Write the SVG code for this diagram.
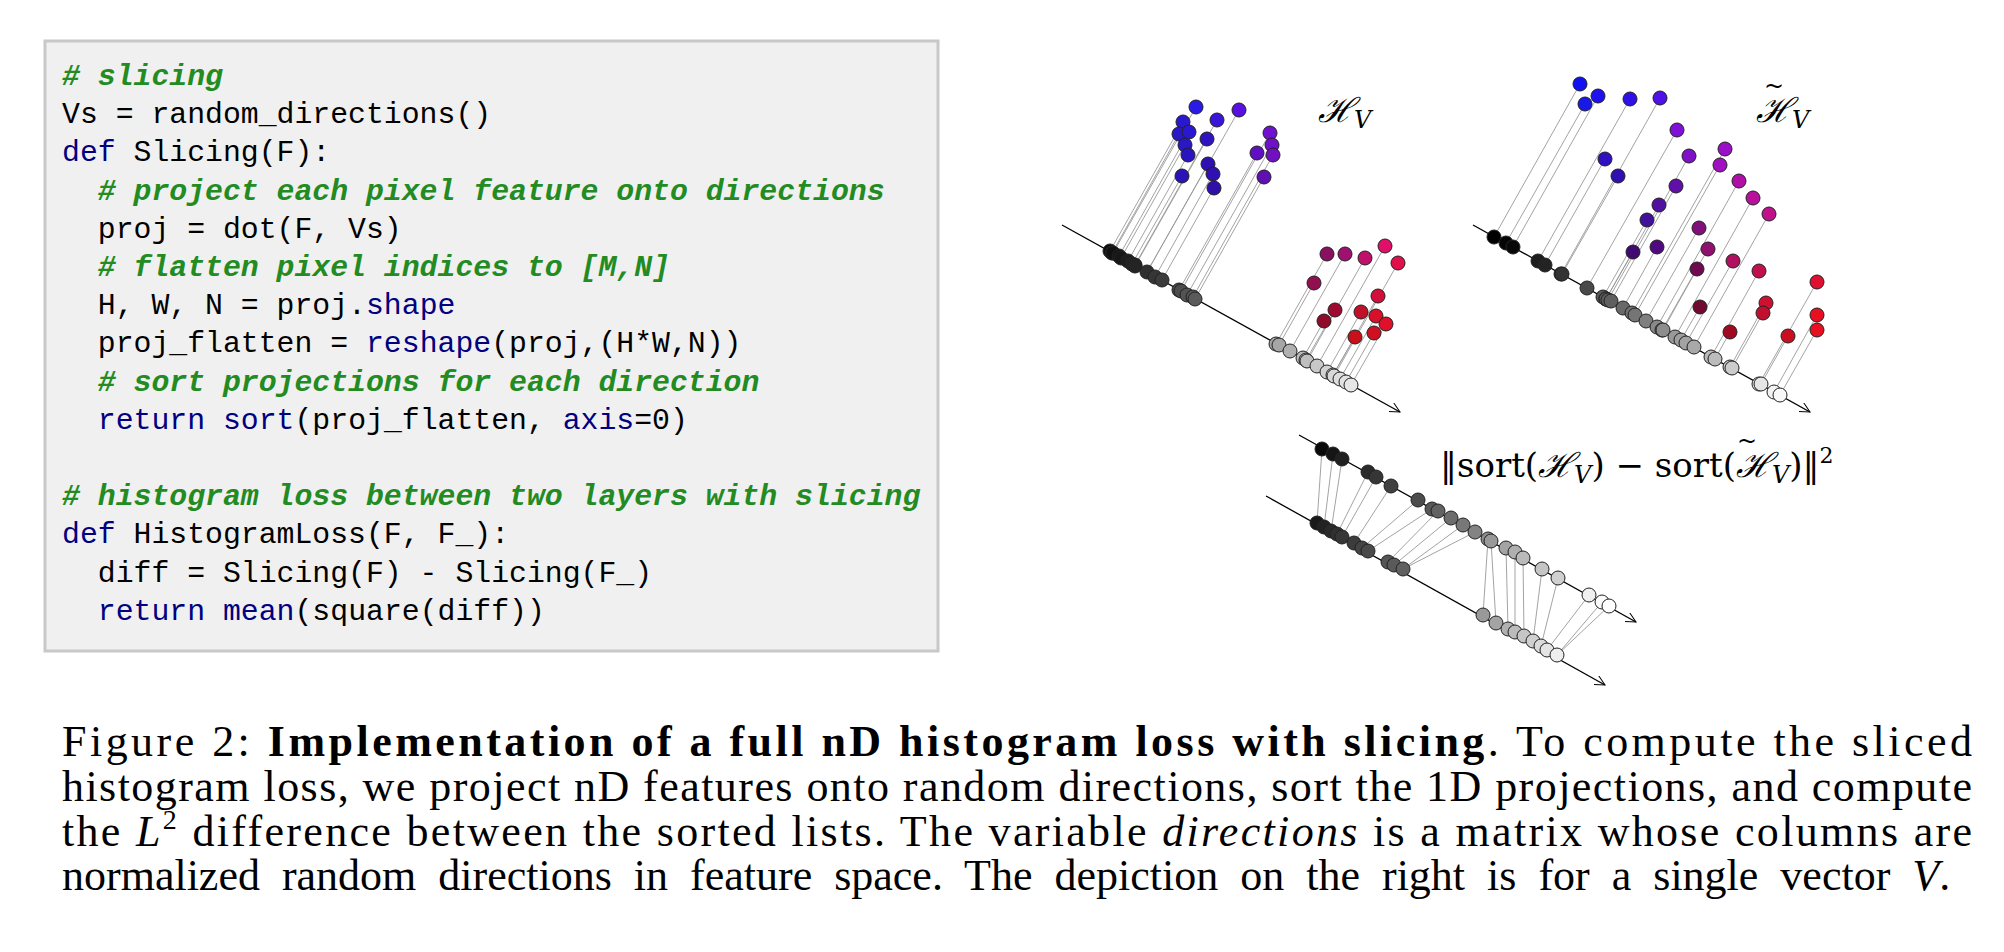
<svg xmlns="http://www.w3.org/2000/svg" width="2004" height="952" viewBox="0 0 2004 952">
<style>
.code{font-family:"Liberation Mono",monospace;font-size:29.8px;fill:#000;white-space:pre}
.cm{fill:#228b22;font-style:italic;font-weight:bold}
.kw{fill:#000080}
.cap{font-family:"Liberation Serif",serif;font-size:44px;fill:#000}
.pl{stroke:#999;stroke-width:0.9}
.ax{stroke:#000;stroke-width:1.3;fill:none;marker-end:url(#ah)}
circle{stroke:#222;stroke-width:1}
.m{font-family:"DejaVu Serif","Liberation Serif",serif;fill:#000}
</style>
<defs><marker id="ah" markerWidth="12" markerHeight="12" refX="10" refY="5" orient="auto" markerUnits="userSpaceOnUse"><path d="M0,0 L10,5 L0,10" fill="none" stroke="#000" stroke-width="1"/></marker></defs>
<rect width="2004" height="952" fill="#fff"/>
<g id="code">
<rect x="45" y="41" width="893" height="610" fill="#f0f0f0" stroke="#c8c8c8" stroke-width="3"/>
<text class="code" x="62" y="85"><tspan class="cm"># slicing</tspan></text>
<text class="code" x="62" y="123">Vs = random_directions()</text>
<text class="code" x="62" y="161"><tspan class="kw">def</tspan> Slicing(F):</text>
<text class="code" x="62" y="200">  <tspan class="cm"># project each pixel feature onto directions</tspan></text>
<text class="code" x="62" y="238">  proj = dot(F, Vs)</text>
<text class="code" x="62" y="276">  <tspan class="cm"># flatten pixel indices to [M,N]</tspan></text>
<text class="code" x="62" y="314">  H, W, N = proj.<tspan class="kw">shape</tspan></text>
<text class="code" x="62" y="352">  proj_flatten = <tspan class="kw">reshape</tspan>(proj,(H*W,N))</text>
<text class="code" x="62" y="391">  <tspan class="cm"># sort projections for each direction</tspan></text>
<text class="code" x="62" y="429">  <tspan class="kw">return</tspan> <tspan class="kw">sort</tspan>(proj_flatten, <tspan class="kw">axis</tspan>=0)</text>
<text class="code" x="62" y="505"><tspan class="cm"># histogram loss between two layers with slicing</tspan></text>
<text class="code" x="62" y="543"><tspan class="kw">def</tspan> HistogramLoss(F, F_):</text>
<text class="code" x="62" y="582">  diff = Slicing(F) - Slicing(F_)</text>
<text class="code" x="62" y="620">  <tspan class="kw">return</tspan> <tspan class="kw">mean</tspan>(square(diff))</text>
</g>
<g id="connectors">
<line class="ax" x1="1062" y1="225" x2="1400" y2="412"/>
<line class="ax" x1="1473" y1="225" x2="1810" y2="412"/>
<line class="ax" x1="1299" y1="435" x2="1636" y2="622"/>
<line class="ax" x1="1266" y1="496" x2="1605" y2="685"/>
<g class="pl">
<line x1="1196" y1="107" x2="1113" y2="253"/><line x1="1239" y1="110" x2="1147" y2="272"/><line x1="1183" y1="122" x2="1110" y2="251"/><line x1="1217" y1="120" x2="1135" y2="265"/><line x1="1179" y1="134" x2="1112" y2="253"/><line x1="1189" y1="132" x2="1119" y2="256"/><line x1="1207" y1="139" x2="1135" y2="266"/><line x1="1185" y1="145" x2="1121" y2="258"/><line x1="1188" y1="155" x2="1128" y2="261"/><line x1="1208" y1="164" x2="1147" y2="272"/><line x1="1213" y1="174" x2="1155" y2="277"/><line x1="1182" y1="176" x2="1132" y2="264"/><line x1="1214" y1="188" x2="1162" y2="280"/><line x1="1270" y1="133" x2="1181" y2="291"/><line x1="1272" y1="145" x2="1187" y2="295"/><line x1="1257" y1="153" x2="1179" y2="290"/><line x1="1273" y1="155" x2="1193" y2="297"/><line x1="1264" y1="177" x2="1195" y2="299"/>
<line x1="1327" y1="254" x2="1276" y2="344"/><line x1="1345" y1="254" x2="1290" y2="351"/><line x1="1365" y1="258" x2="1307" y2="361"/><line x1="1385" y1="246" x2="1317" y2="366"/><line x1="1398" y1="263" x2="1334" y2="376"/><line x1="1314" y1="283" x2="1279" y2="345"/><line x1="1378" y1="296" x2="1333" y2="375"/><line x1="1335" y1="310" x2="1306" y2="360"/><line x1="1361" y1="312" x2="1327" y2="372"/><line x1="1324" y1="321" x2="1303" y2="358"/><line x1="1376" y1="316" x2="1340" y2="379"/><line x1="1386" y1="324" x2="1351" y2="385"/><line x1="1355" y1="337" x2="1333" y2="375"/><line x1="1374" y1="333" x2="1346" y2="382"/>
<line x1="1580" y1="84" x2="1494" y2="237"/><line x1="1585" y1="104" x2="1506" y2="243"/><line x1="1598" y1="96" x2="1513" y2="247"/><line x1="1630" y1="99" x2="1538" y2="261"/><line x1="1660" y1="98" x2="1561" y2="274"/><line x1="1677" y1="130" x2="1587" y2="288"/><line x1="1605" y1="159" x2="1545" y2="265"/><line x1="1618" y1="176" x2="1562" y2="274"/><line x1="1689" y1="156" x2="1608" y2="300"/><line x1="1725" y1="149" x2="1632" y2="313"/><line x1="1720" y1="165" x2="1635" y2="315"/><line x1="1739" y1="181" x2="1657" y2="327"/><line x1="1676" y1="186" x2="1611" y2="301"/><line x1="1753" y1="198" x2="1675" y2="337"/><line x1="1769" y1="214" x2="1694" y2="347"/><line x1="1659" y1="205" x2="1606" y2="299"/><line x1="1647" y1="220" x2="1603" y2="297"/><line x1="1699" y1="228" x2="1646" y2="321"/><line x1="1633" y1="252" x2="1606" y2="299"/><line x1="1657" y1="247" x2="1623" y2="308"/><line x1="1708" y1="249" x2="1662" y2="330"/><line x1="1733" y1="261" x2="1686" y2="343"/><line x1="1697" y1="269" x2="1663" y2="330"/><line x1="1759" y1="271" x2="1711" y2="357"/><line x1="1817" y1="282" x2="1759" y2="384"/><line x1="1766" y1="303" x2="1730" y2="367"/><line x1="1763" y1="313" x2="1732" y2="368"/><line x1="1700" y1="307" x2="1681" y2="340"/><line x1="1817" y1="315" x2="1774" y2="392"/><line x1="1817" y1="330" x2="1780" y2="395"/><line x1="1730" y1="332" x2="1715" y2="359"/><line x1="1788" y1="336" x2="1761" y2="384"/>
<line x1="1322" y1="449" x2="1317" y2="523"/><line x1="1333" y1="454" x2="1324" y2="527"/><line x1="1342" y1="459" x2="1331" y2="531"/><line x1="1368" y1="472" x2="1337" y2="534"/><line x1="1376" y1="477" x2="1342" y2="537"/><line x1="1391" y1="486" x2="1354" y2="543"/><line x1="1418" y1="500" x2="1362" y2="548"/><line x1="1432" y1="509" x2="1368" y2="551"/><line x1="1438" y1="511" x2="1388" y2="562"/><line x1="1451" y1="518" x2="1394" y2="565"/><line x1="1463" y1="525" x2="1403" y2="569"/><line x1="1475" y1="532" x2="1403" y2="569"/><line x1="1488" y1="539" x2="1483" y2="615"/><line x1="1491" y1="541" x2="1496" y2="623"/><line x1="1506" y1="548" x2="1508" y2="629"/><line x1="1515" y1="552" x2="1515" y2="632"/><line x1="1523" y1="558" x2="1524" y2="636"/><line x1="1542" y1="569" x2="1533" y2="641"/><line x1="1558" y1="578" x2="1541" y2="646"/><line x1="1589" y1="595" x2="1547" y2="650"/><line x1="1602" y1="602" x2="1557" y2="655"/><line x1="1609" y1="606" x2="1557" y2="655"/>
</g>
</g>
<g id="hv-points">
<circle cx="1196" cy="107" r="7" fill="#2a1ae8"/><circle cx="1239" cy="110" r="7" fill="#5a10e0"/><circle cx="1183" cy="122" r="7" fill="#2a18d0"/><circle cx="1217" cy="120" r="7" fill="#3a14d8"/><circle cx="1179" cy="134" r="7" fill="#2a18c8"/><circle cx="1189" cy="132" r="7" fill="#2a18d0"/><circle cx="1207" cy="139" r="7" fill="#3014c0"/><circle cx="1185" cy="145" r="7" fill="#2a18c8"/><circle cx="1188" cy="155" r="7" fill="#2a14c0"/><circle cx="1208" cy="164" r="7" fill="#3010b0"/><circle cx="1213" cy="174" r="7" fill="#3010b0"/><circle cx="1182" cy="176" r="7" fill="#2a14b8"/><circle cx="1214" cy="188" r="7" fill="#3010a8"/><circle cx="1270" cy="133" r="7" fill="#7010d0"/><circle cx="1272" cy="145" r="7" fill="#7010c8"/><circle cx="1257" cy="153" r="7" fill="#6010c0"/><circle cx="1273" cy="155" r="7" fill="#7010c0"/><circle cx="1264" cy="177" r="7" fill="#6010b0"/>
<circle cx="1327" cy="254" r="7" fill="#8a1060"/><circle cx="1345" cy="254" r="7" fill="#a01070"/><circle cx="1365" cy="258" r="7" fill="#c0106a"/><circle cx="1385" cy="246" r="7" fill="#e0106a"/><circle cx="1398" cy="263" r="7" fill="#e0104a"/><circle cx="1314" cy="283" r="7" fill="#901050"/><circle cx="1378" cy="296" r="7" fill="#d0103a"/><circle cx="1335" cy="310" r="7" fill="#a00a30"/><circle cx="1361" cy="312" r="7" fill="#c0102a"/><circle cx="1324" cy="321" r="7" fill="#900a2a"/><circle cx="1376" cy="316" r="7" fill="#d8102a"/><circle cx="1386" cy="324" r="7" fill="#e0102a"/><circle cx="1355" cy="337" r="7" fill="#c8101a"/><circle cx="1374" cy="333" r="7" fill="#d01020"/>
</g>
<g id="hv-axis-points">
<circle cx="1110" cy="251" r="7" fill="#0d0d0d"/><circle cx="1112" cy="253" r="7" fill="#0f0f0f"/><circle cx="1113" cy="253" r="7" fill="#101010"/><circle cx="1119" cy="256" r="7" fill="#151515"/><circle cx="1121" cy="258" r="7" fill="#171717"/><circle cx="1128" cy="261" r="7" fill="#1d1d1d"/><circle cx="1132" cy="264" r="7" fill="#222"/><circle cx="1135" cy="265" r="7" fill="#242424"/><circle cx="1135" cy="266" r="7" fill="#242424"/><circle cx="1147" cy="272" r="7" fill="#2f2f2f"/><circle cx="1155" cy="277" r="7" fill="#363636"/><circle cx="1162" cy="280" r="7" fill="#3c3c3c"/><circle cx="1179" cy="290" r="7" fill="#4c4c4c"/><circle cx="1181" cy="291" r="7" fill="#4d4d4d"/><circle cx="1187" cy="295" r="7" fill="#535353"/><circle cx="1193" cy="297" r="7" fill="#585858"/><circle cx="1195" cy="299" r="7" fill="#5a5a5a"/>
<circle cx="1276" cy="344" r="7" fill="#a4a4a4"/><circle cx="1279" cy="345" r="7" fill="#a6a6a6"/><circle cx="1290" cy="351" r="7" fill="#b0b0b0"/><circle cx="1303" cy="358" r="7" fill="#bcbcbc"/><circle cx="1306" cy="360" r="7" fill="#bfbfbf"/><circle cx="1307" cy="361" r="7" fill="#bfbfbf"/><circle cx="1317" cy="366" r="7" fill="#c8c8c8"/><circle cx="1327" cy="372" r="7" fill="#d2d2d2"/><circle cx="1333" cy="375" r="7" fill="#d7d7d7"/><circle cx="1334" cy="376" r="7" fill="#d8d8d8"/><circle cx="1340" cy="379" r="7" fill="#dddddd"/><circle cx="1346" cy="382" r="7" fill="#e3e3e3"/><circle cx="1351" cy="385" r="7" fill="#e7e7e7"/>
</g>
<g id="hvt-points">
<circle cx="1580" cy="84" r="7" fill="#1010f0"/><circle cx="1585" cy="104" r="7" fill="#1818e8"/><circle cx="1598" cy="96" r="7" fill="#2010f0"/><circle cx="1630" cy="99" r="7" fill="#3010e8"/><circle cx="1660" cy="98" r="7" fill="#5010e8"/><circle cx="1677" cy="130" r="7" fill="#8010d8"/><circle cx="1605" cy="159" r="7" fill="#3010c0"/><circle cx="1618" cy="176" r="7" fill="#3010b0"/><circle cx="1689" cy="156" r="7" fill="#8010c8"/><circle cx="1725" cy="149" r="7" fill="#9a10c8"/><circle cx="1720" cy="165" r="7" fill="#a010c0"/><circle cx="1739" cy="181" r="7" fill="#b010a8"/><circle cx="1676" cy="186" r="7" fill="#6010a8"/><circle cx="1753" cy="198" r="7" fill="#b8109a"/><circle cx="1769" cy="214" r="7" fill="#c0108a"/><circle cx="1659" cy="205" r="7" fill="#5010a0"/><circle cx="1647" cy="220" r="7" fill="#40109a"/><circle cx="1699" cy="228" r="7" fill="#80107a"/><circle cx="1633" cy="252" r="7" fill="#400a70"/><circle cx="1657" cy="247" r="7" fill="#500a80"/><circle cx="1708" cy="249" r="7" fill="#901070"/><circle cx="1733" cy="261" r="7" fill="#b01060"/><circle cx="1697" cy="269" r="7" fill="#700a50"/><circle cx="1759" cy="271" r="7" fill="#c01050"/><circle cx="1817" cy="282" r="7" fill="#e01030"/><circle cx="1766" cy="303" r="7" fill="#d01030"/><circle cx="1763" cy="313" r="7" fill="#c01030"/><circle cx="1700" cy="307" r="7" fill="#700a30"/><circle cx="1817" cy="315" r="7" fill="#e81020"/><circle cx="1817" cy="330" r="7" fill="#e81020"/><circle cx="1730" cy="332" r="7" fill="#a00a20"/><circle cx="1788" cy="336" r="7" fill="#c81020"/>
</g>
<g id="hvt-axis-points">
<circle cx="1494" cy="237" r="7" fill="#000"/><circle cx="1506" cy="243" r="7" fill="#050505"/><circle cx="1513" cy="247" r="7" fill="#080808"/><circle cx="1538" cy="261" r="7" fill="#1d1d1d"/><circle cx="1545" cy="265" r="7" fill="#232323"/><circle cx="1561" cy="274" r="7" fill="#313131"/><circle cx="1562" cy="274" r="7" fill="#333"/><circle cx="1587" cy="288" r="7" fill="#494949"/><circle cx="1603" cy="297" r="7" fill="#585858"/><circle cx="1606" cy="299" r="7" fill="#5a5a5a"/><circle cx="1606" cy="299" r="7" fill="#5b5b5b"/><circle cx="1608" cy="300" r="7" fill="#5c5c5c"/><circle cx="1611" cy="301" r="7" fill="#5f5f5f"/><circle cx="1623" cy="308" r="7" fill="#696969"/><circle cx="1632" cy="313" r="7" fill="#727272"/><circle cx="1635" cy="315" r="7" fill="#757575"/><circle cx="1646" cy="321" r="7" fill="#7f7f7f"/><circle cx="1657" cy="327" r="7" fill="#888"/><circle cx="1662" cy="330" r="7" fill="#8d8d8d"/><circle cx="1663" cy="330" r="7" fill="#8d8d8d"/><circle cx="1675" cy="337" r="7" fill="#989898"/><circle cx="1681" cy="340" r="7" fill="#9e9e9e"/><circle cx="1686" cy="343" r="7" fill="#a3a3a3"/><circle cx="1694" cy="347" r="7" fill="#a9a9a9"/><circle cx="1711" cy="357" r="7" fill="#b9b9b9"/><circle cx="1715" cy="359" r="7" fill="#bcbcbc"/><circle cx="1730" cy="367" r="7" fill="#cacaca"/><circle cx="1732" cy="368" r="7" fill="#cccccc"/><circle cx="1759" cy="384" r="7" fill="#e5e5e5"/><circle cx="1761" cy="384" r="7" fill="#e6e6e6"/><circle cx="1774" cy="392" r="7" fill="#f2f2f2"/><circle cx="1780" cy="395" r="7" fill="#f8f8f8"/>
</g>
<g id="sorted-top">
<circle cx="1322" cy="449" r="7" fill="#0a0a0a"/><circle cx="1333" cy="454" r="7" fill="#151515"/><circle cx="1342" cy="459" r="7" fill="#202020"/><circle cx="1368" cy="472" r="7" fill="#2b2b2b"/><circle cx="1376" cy="477" r="7" fill="#363636"/><circle cx="1391" cy="486" r="7" fill="#414141"/><circle cx="1418" cy="500" r="7" fill="#4c4c4c"/><circle cx="1432" cy="509" r="7" fill="#575757"/><circle cx="1438" cy="511" r="7" fill="#626262"/><circle cx="1451" cy="518" r="7" fill="#6d6d6d"/><circle cx="1463" cy="525" r="7" fill="#787878"/><circle cx="1475" cy="532" r="7" fill="#838383"/><circle cx="1488" cy="539" r="7" fill="#8e8e8e"/><circle cx="1491" cy="541" r="7" fill="#999"/><circle cx="1506" cy="548" r="7" fill="#a4a4a4"/><circle cx="1515" cy="552" r="7" fill="#afafaf"/><circle cx="1523" cy="558" r="7" fill="#bababa"/><circle cx="1542" cy="569" r="7" fill="#c5c5c5"/><circle cx="1558" cy="578" r="7" fill="#d0d0d0"/><circle cx="1589" cy="595" r="7" fill="#f0f0f0"/><circle cx="1602" cy="602" r="7" fill="#fafafa"/><circle cx="1609" cy="606" r="7" fill="#fff"/>
</g>
<g id="sorted-bottom">
<circle cx="1317" cy="523" r="7" fill="#1a1a1a"/><circle cx="1324" cy="527" r="7" fill="#222"/><circle cx="1331" cy="531" r="7" fill="#2a2a2a"/><circle cx="1337" cy="534" r="7" fill="#303030"/><circle cx="1342" cy="537" r="7" fill="#363636"/><circle cx="1354" cy="543" r="7" fill="#3c3c3c"/><circle cx="1362" cy="548" r="7" fill="#444"/><circle cx="1368" cy="551" r="7" fill="#4a4a4a"/><circle cx="1388" cy="562" r="7" fill="#555"/><circle cx="1394" cy="565" r="7" fill="#5a5a5a"/><circle cx="1403" cy="569" r="7" fill="#606060"/><circle cx="1483" cy="615" r="7" fill="#999"/><circle cx="1496" cy="623" r="7" fill="#a4a4a4"/><circle cx="1508" cy="629" r="7" fill="#b0b0b0"/><circle cx="1515" cy="632" r="7" fill="#bbb"/><circle cx="1524" cy="636" r="7" fill="#c6c6c6"/><circle cx="1533" cy="641" r="7" fill="#d0d0d0"/><circle cx="1541" cy="646" r="7" fill="#dadada"/><circle cx="1547" cy="650" r="7" fill="#e4e4e4"/><circle cx="1557" cy="655" r="7" fill="#eee"/>
</g>
<g id="labels">
<text class="m" x="1318" y="122" font-size="34" font-style="italic">ℋ<tspan font-size="24" dy="6">V</tspan></text>
<text class="m" x="1756" y="122" font-size="34" font-style="italic">ℋ<tspan font-size="24" dy="6">V</tspan></text>
<text class="m" x="1764" y="94" font-size="24">~</text>
<text class="m" x="1440" y="477" font-size="34">‖sort(<tspan font-style="italic">ℋ</tspan><tspan font-size="24" dy="6" font-style="italic">V</tspan><tspan dy="-6">) − sort(</tspan><tspan font-style="italic">ℋ</tspan><tspan font-size="24" dy="6" font-style="italic">V</tspan><tspan dy="-6">)‖</tspan><tspan font-size="22" dy="-14">2</tspan></text>
<text class="m" x="1737" y="449" font-size="24">~</text>
</g>
<g id="caption">
<text class="cap" x="62" y="756" textLength="1910" lengthAdjust="spacing">Figure 2:    <tspan font-weight="bold">Implementation of a full nD histogram loss with slicing</tspan>.  To compute the sliced</text>
<text class="cap" x="62" y="801" textLength="1910" lengthAdjust="spacing">histogram loss, we project nD features onto random directions, sort the 1D projections, and compute</text>
<text class="cap" x="62" y="846" textLength="1910" lengthAdjust="spacing">the <tspan font-style="italic">L</tspan><tspan font-size="28" dy="-17">2</tspan><tspan dy="17"> difference between the sorted lists. The variable </tspan><tspan font-style="italic">directions</tspan> is a matrix whose columns are</text>
<text class="cap" x="62" y="890" word-spacing="11">normalized random directions in feature space. The depiction on the right is for a single vector <tspan font-style="italic">V</tspan>.</text>
</g>
</svg>
